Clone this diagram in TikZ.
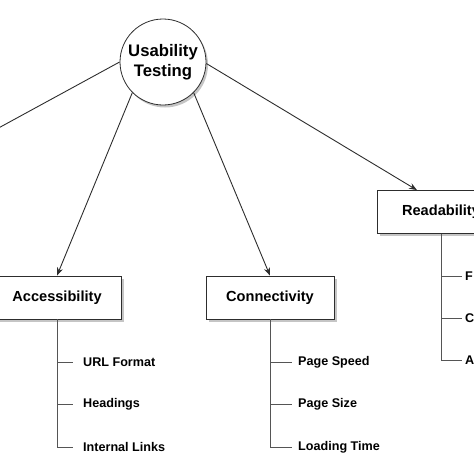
\documentclass[tikz,border=0pt]{standalone}
\usepackage{fontspec}
\setmainfont{Liberation Sans}
\usepackage{tikz}
\usetikzlibrary{positioning,arrows.meta,shadows}
\definecolor{linecol}{RGB}{45,45,45}
\definecolor{treecol}{RGB}{85,85,85}

\begin{document}
\begin{tikzpicture}[x=1pt, y=-1pt,
  root/.style={circle, draw=linecol, fill=white, thick, minimum size=86pt, inner sep=0pt,
               font=\fontsize{16.7}{20.5}\selectfont\bfseries, align=center,
               drop shadow={shadow xshift=2pt, shadow yshift=-2.5pt, fill=black!45, opacity=0.5}},
  cat/.style={rectangle, draw=linecol, fill=white, thick, minimum width=128pt, minimum height=43pt,
              font=\fontsize{14.6}{16}\selectfont\bfseries,
              drop shadow={shadow xshift=2.5pt, shadow yshift=-2.5pt, fill=black!45, opacity=0.5}},
  sub/.style={anchor=west, inner sep=0pt, font=\fontsize{12.6}{14}\selectfont\bfseries},
  ar/.style={-{Stealth[length=8pt, width=6pt]}, line width=0.9pt, linecol},
  tree/.style={line width=0.9pt, treecol}
]
\useasboundingbox (0,0) rectangle (474,474);
\clip (0,0) rectangle (474,474);

\node[root] (use) at (163,62) {Usability\\Testing};

\node[cat] (acc) at (57,297.5) {Accessibility};
\node[cat] (con) at (270,297.5) {Connectivity};
\node[cat] (rea) at (441,212) {Readability};
\coordinate (off) at (-40,149);

\draw[ar] (use.180) -- (off);
\draw[ar] (use.225) -- (acc.north);
\draw[ar] (use.-45) -- (con.north);
\draw[ar] (use.-2) -- ([xshift=-24pt]rea.north);

% sub items
\foreach \n/\y/\t in {url/362/URL Format, hdg/404/Headings, lnk/447/Internal Links} {
  \node[sub] (\n) at (83,\y) {\t};
  \draw[tree] (acc.south) |- ([xshift=-10pt]\n.west);
}
\foreach \n/\y/\t in {psp/362/Page Speed, psz/404/Page Size, ldt/447/Loading Time} {
  \node[sub] (\n) at (298,\y) {\t};
  \draw[tree] (con.south) |- ([xshift=-6pt]\n.west);
}
\foreach \n/\y/\t in {rf/276/F, rc/318/C, ra/360/A} {
  \node[sub] (\n) at (465,\y) {\t};
  \draw[tree] (rea.south) |- ([xshift=-3pt]\n.west);
}

\end{tikzpicture}
\end{document}
